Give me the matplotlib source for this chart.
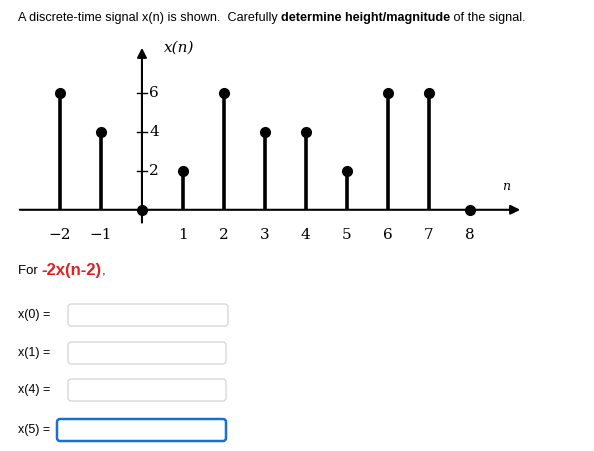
import matplotlib
matplotlib.use("Agg")
import matplotlib.pyplot as plt
from matplotlib.patches import FancyBboxPatch

n_vals = [-2, -1, 0, 1, 2, 3, 4, 5, 6, 7, 8]
x_vals = [6, 4, 0, 2, 6, 4, 4, 2, 6, 6, 0]
x_tick_labels = ["−2", "−1", "1", "2", "3", "4", "5", "6", "7", "8"]
x_tick_pos = [-2, -1, 1, 2, 3, 4, 5, 6, 7, 8]
y_ticks = [2, 4, 6]
prompts = ["x(0) =", "x(1) =", "x(4) =", "x(5) ="]

W, H = 594, 451
fig = plt.figure(figsize=(W/100, H/100), dpi=100)
fig.patch.set_facecolor("white")
sans = "Liberation Sans"
serif = "DejaVu Serif"

pg = fig.add_axes([0, 0, 1, 1])
pg.set_xlim(0, W); pg.set_ylim(H, 0); pg.axis("off")

fig.canvas.draw()
r = fig.canvas.get_renderer()
def runs(x, y, parts):
    for s, kw in parts:
        t = pg.text(x, y, s, va="center", ha="left", family=sans, **kw)
        bb = t.get_window_extent(renderer=r)
        x += bb.width
runs(18, 18, [("A discrete-time signal x(n) is shown.  Carefully ", dict(fontsize=9.1)),
              ("determine height/magnitude", dict(fontsize=9.1, weight="bold")),
              (" of the signal.", dict(fontsize=9.1))])
runs(18, 271, [("For ", dict(fontsize=9.5)),
               ("-2x(n-2)", dict(fontsize=12, weight="bold", color="#e02020")),
               (",", dict(fontsize=9.5))])

ys = [315, 353, 390, 430]
boxes = [(68, 228), (68, 226), (68, 226), (57, 226)]
for i, (p, y, (bx0, bx1)) in enumerate(zip(prompts, ys, boxes)):
    pg.text(18, y, p, va="center", ha="left", family=sans, fontsize=9)
    last = i == 3
    pg.add_patch(FancyBboxPatch((bx0, y-11), bx1-bx0, 22,
                 boxstyle="round,pad=0,rounding_size=3",
                 fc="white", ec="#1a6fd6" if last else "#d0d0d0",
                 lw=1.8 if last else 0.8))

ax = fig.add_axes([17/W, (H-239)/H, 506/W, 194/H])
ax.set_xlim(-3.05, 9.3); ax.set_ylim(-1.5, 8.46); ax.axis("off")
ml, sl, bl = ax.stem(n_vals, x_vals, linefmt="k-", markerfmt="ko", basefmt=" ")
plt.setp(sl, lw=2.6); plt.setp(ml, ms=7)
ax.annotate("", xy=(9.3, 0), xytext=(-3.05, 0),
            arrowprops=dict(arrowstyle="-|>", color="black", lw=1.5, mutation_scale=14))
ax.annotate("", xy=(0, 8.46), xytext=(0, -0.8),
            arrowprops=dict(arrowstyle="-|>", color="black", lw=1.5, mutation_scale=14))
for yt in y_ticks:
    ax.plot([-0.12, 0.12], [yt, yt], color="k", lw=1)
    ax.text(0.18, yt, str(yt), va="center", ha="left", family=serif, fontsize=11)
for xp, xl in zip(x_tick_pos, x_tick_labels):
    ax.text(xp, -1.28, xl, ha="center", va="center", family=serif, fontsize=11)
ax.text(0.9, 8.3, "x(n)", ha="center", va="center", family=serif, style="italic", fontsize=11)
ax.text(8.9, 1.2, "n", ha="center", va="center", family=serif, style="italic", fontsize=9)

fig.savefig("out.png", dpi=100)
